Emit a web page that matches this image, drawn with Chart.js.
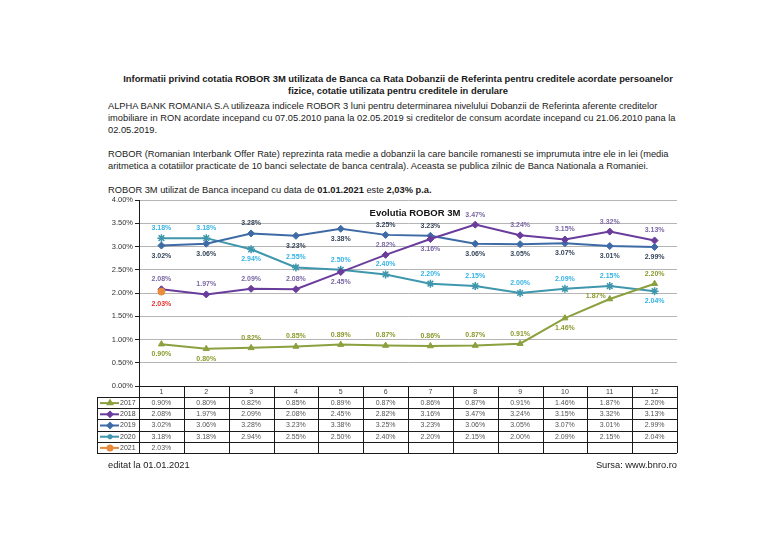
<!DOCTYPE html>
<html>
<head>
<meta charset="utf-8">
<script src="https://cdn.jsdelivr.net/npm/chart.js@4.4.0/dist/chart.umd.min.js"></script>
<style>
  body { margin: 0; background: #fff; width: 768px; height: 543px; position: relative; overflow: hidden;
         font-family: "Liberation Sans", Arial, sans-serif; color: #1a1a1a; }
  .t { position: absolute; white-space: nowrap; font-size: 9.3px; line-height: 12px; }
  .h { font-weight: bold; font-size: 9.4px; left: 0; width: 796px; text-align: center; }
  #wrap { position: absolute; left: 0; top: 190px; width: 768px; height: 280px; }
</style>
</head>
<body>
<div class="t h" style="top:73px">Informatii privind cotatia ROBOR 3M utilizata de Banca ca Rata Dobanzii de Referinta pentru creditele acordate persoanelor</div>
<div class="t h" style="top:85px">fizice, cotatie utilizata pentru creditele in derulare</div>
<div class="t" style="left:108px;top:100px">ALPHA BANK ROMANIA S.A utilizeaza indicele ROBOR 3 luni pentru determinarea nivelului Dobanzii de Referinta aferente creditelor</div>
<div class="t" style="left:108px;top:112px">imobiliare in RON acordate incepand cu 07.05.2010 pana la 02.05.2019 si creditelor de consum acordate incepand cu 21.06.2010 pana la</div>
<div class="t" style="left:108px;top:124px">02.05.2019.</div>
<div class="t" style="left:108px;top:148px">ROBOR (Romanian Interbank Offer Rate) reprezinta rata medie a dobanzii la care bancile romanesti se imprumuta intre ele in lei (media</div>
<div class="t" style="left:108px;top:160px">aritmetica a cotatiilor practicate de 10 banci selectate de banca centrala). Aceasta se publica zilnic de Banca Nationala a Romaniei.</div>
<div class="t" style="left:108px;top:184px">ROBOR 3M utilizat de Banca incepand cu data de <b>01.01.2021</b> este <b>2,03% p.a.</b></div>
<div id="wrap"><canvas id="roborChart"></canvas></div>
<div class="t" style="left:108px;top:459px">editat la 01.01.2021</div>
<div class="t" style="right:91px;top:459px">Sursa: www.bnro.ro</div>

<script>
const months = ['1', '2', '3', '4', '5', '6', '7', '8', '9', '10', '11', '12'];
const years = ['2017', '2018', '2019', '2020', '2021'];
const rates2017 = [0.90, 0.80, 0.82, 0.85, 0.89, 0.87, 0.86, 0.87, 0.91, 1.46, 1.87, 2.20];
const rates2018 = [2.08, 1.97, 2.09, 2.08, 2.45, 2.82, 3.16, 3.47, 3.24, 3.15, 3.32, 3.13];
const rates2019 = [3.02, 3.06, 3.28, 3.23, 3.38, 3.25, 3.23, 3.06, 3.05, 3.07, 3.01, 2.99];
const rates2020 = [3.18, 3.18, 2.94, 2.55, 2.50, 2.40, 2.20, 2.15, 2.00, 2.09, 2.15, 2.04];
const rates2021 = [2.03];
const chartTitle = 'Evolutia ROBOR 3M';

// where each value label sits: a = above, b = below, l = left of the point
const labelPos = [
  ['b', 'b', 'a', 'a', 'a', 'a', 'a', 'a', 'a', 'b', 'l', 'a'],
  ['a', 'a', 'a', 'a', 'b', 'a', 'b', 'a', 'a', 'a', 'a', 'a'],
  ['b', 'b', 'a', 'b', 'b', 'a', 'a', 'b', 'b', 'b', 'b', 'b'],
  ['a', 'a', 'b', 'a', 'a', 'a', 'a', 'a', 'a', 'a', 'a', 'b'],
  ['b']
];
const lineColors = ['#8ba03e', '#6a3c9c', '#3e6ba6', '#3f97ad', '#e98a3c'];
const labelColors = ['#8c9a2c', '#7a68a4', '#36465a', '#35b3e6', '#e8302e'];
const markers = ['triangle', 'rectRot', 'rectRot', 'star', 'circle'];

const fmt = v => v.toFixed(2) + '%';

const valueLabels = {
  id: 'valueLabels',
  afterDatasetsDraw(chart) {
    const ctx = chart.ctx;
    ctx.save();
    ctx.font = 'bold 7px "Liberation Sans", Arial, sans-serif';
    ctx.textAlign = 'center';
    ctx.textBaseline = 'middle';
    chart.data.datasets.forEach((ds, i) => {
      const meta = chart.getDatasetMeta(i);
      meta.data.forEach((pt, j) => {
        const p = labelPos[i][j];
        let dx = 0, dy = p === 'a' ? -10 : 10;
        if (p === 'l') { dx = -14; dy = -3; }
        if (i === 4) dy = 12;
        ctx.fillStyle = labelColors[i];
        ctx.fillText(fmt(ds.data[j]), pt.x + dx, pt.y + dy);
      });
    });
    ctx.font = 'bold 9.5px "Liberation Sans", Arial, sans-serif';
    ctx.fillStyle = '#111';
    ctx.fillText(chartTitle, 415, chart.chartArea.top + 13);
    ctx.restore();
  }
};

// data table under the plot, columns follow the x scale
const dataTable = {
  id: 'dataTable',
  afterDraw(chart) {
    const ctx = chart.ctx;
    const x = chart.scales.x;
    const area = chart.chartArea;
    const band = (area.right - area.left) / months.length;
    const top = area.bottom;
    const headH = 11, rowH = 11.2;
    const left = 97;
    const rows = [rates2017, rates2018, rates2019, rates2020, rates2021];
    const bottom = top + headH + rowH * rows.length;

    ctx.save();
    ctx.strokeStyle = '#1a1a1a';
    ctx.lineWidth = 1;
    ctx.beginPath();
    // horizontals
    ctx.moveTo(area.left, top + 0.5); ctx.lineTo(area.right, top + 0.5);
    for (let r = 0; r <= rows.length; r++) {
      const y = Math.round(top + headH + r * rowH) + 0.5;
      ctx.moveTo(left, y); ctx.lineTo(area.right, y);
    }
    // verticals
    ctx.moveTo(left + 0.5, top + headH); ctx.lineTo(left + 0.5, bottom);
    for (let c = 0; c <= months.length; c++) {
      const xx = Math.round(area.left + c * band) + 0.5;
      ctx.moveTo(xx, top); ctx.lineTo(xx, bottom);
    }
    ctx.stroke();

    ctx.font = '7px "Liberation Sans", Arial, sans-serif';
    ctx.textBaseline = 'middle';
    ctx.textAlign = 'center';
    ctx.fillStyle = '#444';
    months.forEach((m, c) => ctx.fillText(m, x.getPixelForValue(c), top + headH / 2 + 0.5));

    rows.forEach((vals, r) => {
      const cy = top + headH + r * rowH + rowH / 2 + 0.5;
      vals.forEach((v, c) => {
        ctx.fillStyle = '#555';
        ctx.textAlign = 'center';
        ctx.fillText(fmt(v), x.getPixelForValue(c), cy);
      });
      // legend key
      ctx.strokeStyle = lineColors[r];
      ctx.lineWidth = 2;
      ctx.beginPath();
      ctx.moveTo(100, cy); ctx.lineTo(119, cy);
      ctx.stroke();
      ctx.fillStyle = lineColors[r];
      Chart.helpers.drawPoint(ctx, { pointStyle: markers[r], radius: 2.5, borderWidth: 1 }, 110, cy);
      ctx.fillStyle = '#444';
      ctx.textAlign = 'left';
      ctx.fillText(years[r], 120, cy);
    });
    ctx.restore();
  }
};

const seriesData = [rates2017, rates2018, rates2019, rates2020, rates2021];
const datasets = seriesData.map((vals, i) => ({
  label: years[i],
  data: vals,
  borderColor: lineColors[i],
  backgroundColor: lineColors[i],
  borderWidth: 2,
  pointStyle: markers[i],
  pointRadius: markers[i] === 'star' ? 4 : 3.5,
  pointBorderWidth: markers[i] === 'star' ? 1.5 : 1,
  tension: 0,
  order: i === 4 ? -1 : i
}));

const ctx = document.getElementById('roborChart').getContext('2d');
const chart = new Chart(ctx, {
  type: 'line',
  data: { labels: months, datasets },
  options: {
    responsive: true,
    maintainAspectRatio: false,
    animation: false,
    layout: { padding: { left: 99, right: 91, top: 10, bottom: 84 } },
    plugins: { legend: { display: false }, tooltip: { enabled: false } },
    scales: {
      x: { display: false, offset: true },
      y: {
        min: 0, max: 4,
        afterFit(scale) { scale.width = 40; },
        ticks: {
          stepSize: 0.5,
          padding: 2,
          color: '#333',
          font: { size: 7.5, family: '"Liberation Sans", Arial, sans-serif' },
          callback: v => fmt(v)
        },
        grid: { color: '#b5b5b5', lineWidth: 1, tickColor: '#222', tickLength: 4 },
        border: { color: '#1a1a1a', width: 1 }
      }
    }
  },
  plugins: [valueLabels, dataTable]
});
</script>
</body>
</html>
